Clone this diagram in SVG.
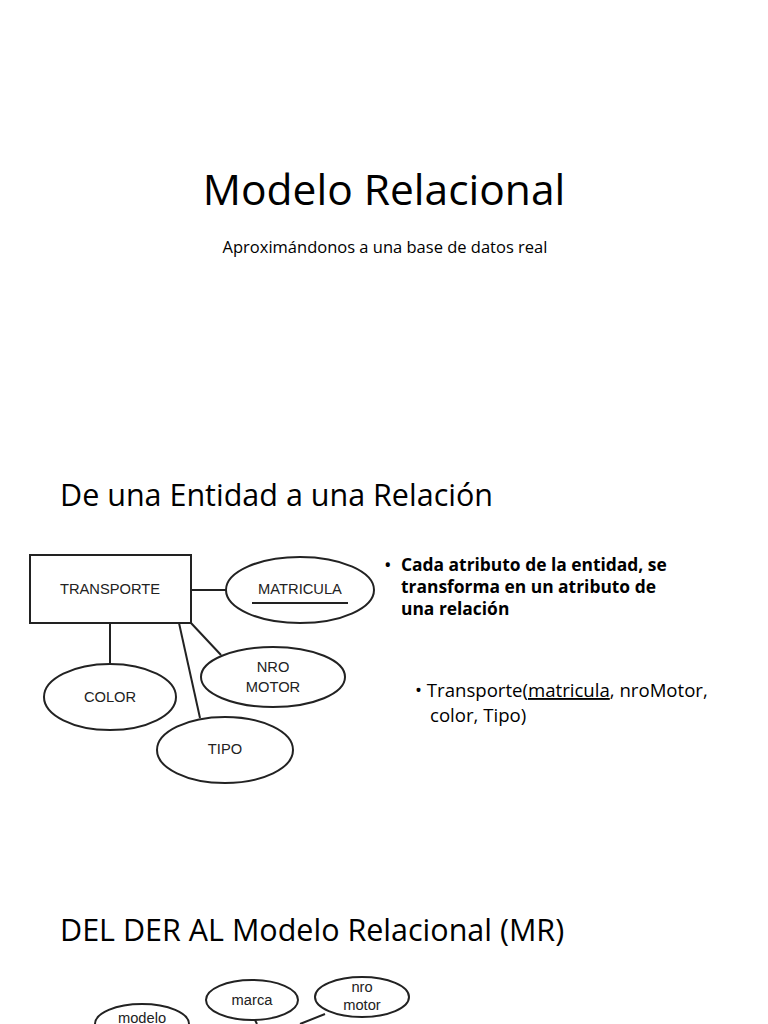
<svg xmlns="http://www.w3.org/2000/svg" width="768" height="1024" viewBox="0 0 768 1024">
<style>
.t{font-family:"Open Sans","Noto Sans",sans-serif;fill:#000}
.d{font-family:"Liberation Sans",Arial,sans-serif;font-size:14.7px;fill:#222;text-anchor:middle}
.s{fill:#fff;stroke:#222;stroke-width:2}
.l{stroke:#222;stroke-width:2;fill:none}
</style>
<rect width="768" height="1024" fill="#fff"/>
<text class="t" x="384" y="205" font-size="42.5" text-anchor="middle">Modelo Relacional</text>
<text class="t" x="385" y="253" font-size="16.5" text-anchor="middle">Aproximándonos a una base de datos real</text>
<text class="t" x="60" y="506" font-size="30.5">De una Entidad a una Relación</text>
<g class="t" font-size="17.4">
<text x="384" y="572" font-size="20">•</text>
<text x="401" y="571" font-weight="bold">Cada atributo de la entidad, se</text>
<text x="401" y="593" font-weight="bold">transforma en un atributo de</text>
<text x="401" y="615" font-weight="bold">una relación</text>
</g>
<g class="t" font-size="18.6">
<text x="415" y="697">• Transporte(<tspan text-decoration="underline">matricula</tspan>, nroMotor,</text>
<text x="430" y="722">color, Tipo)</text>
</g>
<g id="connectors">
<line class="l" x1="191" y1="590" x2="226" y2="590"/>
<line class="l" x1="110" y1="623" x2="110" y2="664"/>
<line class="l" x1="191" y1="623" x2="221" y2="655"/>
<line class="l" x1="179" y1="623" x2="200" y2="718"/>
<line class="l" x1="255" y1="1020" x2="257" y2="1024"/>
<line class="l" x1="325" y1="1014" x2="300" y2="1024"/>
</g>
<g id="transporte"><rect class="s" x="30" y="555" width="161" height="68"/><text class="d" x="110" y="594">TRANSPORTE</text></g>
<g id="matricula"><ellipse class="s" cx="300" cy="590" rx="74" ry="33"/><text class="d" x="300" y="594">MATRICULA</text><line class="l" x1="252" y1="603" x2="348" y2="603" stroke-width="1.5"/></g>
<g id="color"><ellipse class="s" cx="110" cy="697" rx="66" ry="33"/><text class="d" x="110" y="702">COLOR</text></g>
<g id="nromotor"><ellipse class="s" cx="273" cy="677" rx="72" ry="30"/><text class="d" x="273" y="672">NRO</text><text class="d" x="273" y="692">MOTOR</text></g>
<g id="tipo"><ellipse class="s" cx="225" cy="750" rx="68" ry="33"/><text class="d" x="225" y="754">TIPO</text></g>
<text class="t" x="60" y="941" font-size="30.5">DEL DER AL Modelo Relacional (MR)</text>
<g id="marca"><ellipse class="s" cx="252" cy="1000" rx="46" ry="20"/><text class="d" x="252" y="1005">marca</text></g>
<g id="nromotor2"><ellipse class="s" cx="362" cy="997" rx="47" ry="20"/><text class="d" x="362" y="992" font-size="13.5">nro</text><text class="d" x="362" y="1010" font-size="13.5">motor</text></g>
<g id="modelo"><ellipse class="s" cx="142" cy="1024" rx="47" ry="20"/><text class="d" x="142" y="1023" font-size="13.5">modelo</text></g>
</svg>
